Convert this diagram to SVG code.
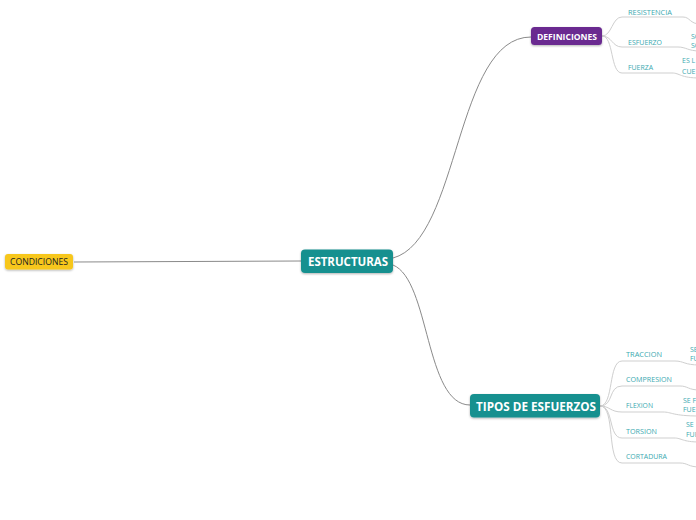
<svg xmlns="http://www.w3.org/2000/svg" width="696" height="520" viewBox="0 0 696 520">
<style>
.main{fill:none;stroke:#8a8a8a;stroke-width:1}
.sub{fill:none;stroke:#cfcfcf;stroke-width:1}
.st{font-family:"Open Sans","Liberation Sans",sans-serif;font-size:7px;fill:#3aa9b0}
.box{font-family:"Open Sans","Liberation Sans",sans-serif;font-weight:bold;fill:#fff}
</style>
<defs>
<filter id="sh" x="-10%" y="-20%" width="120%" height="160%">
<feDropShadow dx="0" dy="1" stdDeviation="0.8" flood-color="#000" flood-opacity="0.3"/>
</filter>
</defs>
<rect width="696" height="520" fill="#fff"/>
<g id="connectors">
<path class="main" d="M74,262 L301,261"/>
<path class="main" d="M393,258 C460,240 455,37 531,37"/>
<path class="main" d="M393,265 C430,280 425,405 470,405"/>
<path class="sub" d="M602,36 C612,36 612,17 622,17 L683,17 C690,17 690,24 700,24"/>
<path class="sub" d="M602,36 C612,36 612,47 622,47 L678,47 C686,47 688,51 700,51"/>
<path class="sub" d="M602,36 C614,36 610,73 622,73 L672,73 C680,73 680,78 700,78"/>
<path class="sub" d="M600,406 C614,406 608,361 622,361 L675,361 C684,361 684,365 700,365"/>
<path class="sub" d="M600,406 C614,406 608,386 622,386 L680,386 C688,386 688,390 700,390"/>
<path class="sub" d="M600,406 C610,406 610,412 622,412 L663,412 C672,412 672,416 700,416"/>
<path class="sub" d="M600,406 C614,406 608,438 622,438 L674,438 C682,438 682,442 700,442"/>
<path class="sub" d="M600,406 C616,406 606,463 622,463 L680,463 C688,463 688,467 700,467"/>
</g>
<g id="estructuras">
<rect x="301" y="249.5" width="92" height="23.5" rx="4" fill="#17908f" filter="url(#sh)"/>
<text class="box" x="308" y="266" font-size="12.5" textLength="80" lengthAdjust="spacingAndGlyphs">ESTRUCTURAS</text>
</g>
<g id="condiciones">
<rect x="5" y="254" width="68" height="15.5" rx="3" fill="#f7c71d" filter="url(#sh)"/>
<text x="10" y="264.5" font-family="'Open Sans','Liberation Sans',sans-serif" font-size="8.5" fill="#222" textLength="58" lengthAdjust="spacingAndGlyphs">CONDICIONES</text>
</g>
<g id="definiciones">
<rect x="531" y="27" width="71" height="18" rx="3.5" fill="#6a2c90" filter="url(#sh)"/>
<text class="box" x="537" y="40" font-size="9.5" font-weight="600" textLength="60" lengthAdjust="spacingAndGlyphs">DEFINICIONES</text>
</g>
<g id="tipos">
<rect x="470" y="394" width="130" height="23.5" rx="4" fill="#17908f" filter="url(#sh)"/>
<text class="box" x="476" y="411" font-size="13" textLength="120" lengthAdjust="spacingAndGlyphs">TIPOS DE ESFUERZOS</text>
</g>
<g id="resistencia"><text class="st" x="628" y="14.5" textLength="44" lengthAdjust="spacingAndGlyphs">RESISTENCIA</text></g>
<g id="esfuerzo"><text class="st" x="628" y="44.5" textLength="34" lengthAdjust="spacingAndGlyphs">ESFUERZO</text></g>
<g id="fuerza"><text class="st" x="628" y="69.5" textLength="25" lengthAdjust="spacingAndGlyphs">FUERZA</text></g>
<g id="esfuerzo-def">
<text class="st" x="691" y="39">SO</text>
<text class="st" x="691" y="47.5">SO</text>
</g>
<g id="fuerza-def">
<text class="st" x="682" y="63">ES L</text>
<text class="st" x="682" y="73.5">CUE</text>
</g>
<g id="traccion"><text class="st" x="626" y="356.5" textLength="36" lengthAdjust="spacingAndGlyphs">TRACCION</text></g>
<g id="compresion"><text class="st" x="626" y="381.5" textLength="46" lengthAdjust="spacingAndGlyphs">COMPRESION</text></g>
<g id="flexion"><text class="st" x="626" y="407.5" textLength="27" lengthAdjust="spacingAndGlyphs">FLEXION</text></g>
<g id="torsion"><text class="st" x="626" y="433.5" textLength="31" lengthAdjust="spacingAndGlyphs">TORSION</text></g>
<g id="cortadura"><text class="st" x="626" y="458.5" textLength="41" lengthAdjust="spacingAndGlyphs">CORTADURA</text></g>
<g id="traccion-def">
<text class="st" x="690" y="351.5">SE</text>
<text class="st" x="690" y="360.5">FU</text>
</g>
<g id="flexion-def">
<text class="st" x="683" y="402.5">SE F</text>
<text class="st" x="683" y="411.5">FUE</text>
</g>
<g id="torsion-def">
<text class="st" x="686" y="426.5">SE</text>
<text class="st" x="686" y="436.5">FUE</text>
</g>
</svg>
